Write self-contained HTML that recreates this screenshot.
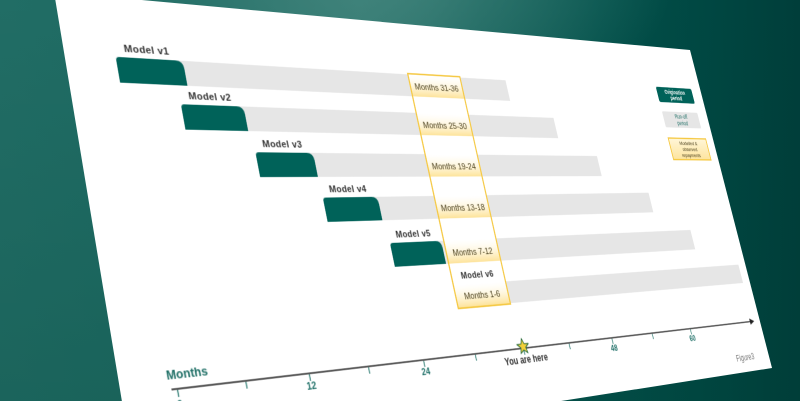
<!DOCTYPE html>
<html>
<head>
<meta charset="utf-8">
<style>
  html, body { margin: 0; padding: 0; width: 800px; height: 401px; overflow: hidden; background: #0d5a52; }
  .wrap {
    position: relative; width: 800px; height: 401px; overflow: hidden;
    background:
      radial-gradient(ellipse 420px 260px at 380px -30px, rgba(70,135,127,0.85), rgba(70,135,127,0) 70%),
      linear-gradient(180deg, rgba(0,0,0,0) 0%, rgba(0,60,50,0.18) 100%),
      linear-gradient(90deg, #216d65 0%, #1d6a62 25%, #2d766e 45%, #0f5d56 60%, #02504a 75%, #004641 90%, #003e3a 100%);
  }
  .bg { position: absolute; left: 0; top: 0; }
  .card {
    position: absolute; left: 0; top: 0;
    width: 1000px; height: 400px;
    transform-origin: 0 0;
    transform: matrix3d(0.96455, 0.081808, 0, 0.00047616,
                        0.146352, 0.927513, 0, -0.000137081,
                        0, 0, 1, 0,
                        54, -8, 0, 1);
  }
  .card svg { position: absolute; left: 0; top: 10px; overflow: visible; }
  text { font-family: "Liberation Sans", sans-serif; }
</style>
</head>
<body>
<div class="wrap">
<svg class="bg" width="800" height="401" viewBox="0 0 800 401" xmlns="http://www.w3.org/2000/svg">
  <polygon points="54,-8 690,50 772,368 133,468" fill="#ffffff"/>
</svg>
<div class="card">
<svg width="1000" height="390" viewBox="0 10 1000 390" xmlns="http://www.w3.org/2000/svg">
  <defs>
    <linearGradient id="yg" x1="0" y1="0" x2="0" y2="1">
      <stop offset="0" stop-color="#fff8e0" stop-opacity="0"/>
      <stop offset="1" stop-color="#fde39a"/>
    </linearGradient>
    <linearGradient id="lg" x1="0" y1="0" x2="0" y2="1">
      <stop offset="0" stop-color="#fff6d8"/>
      <stop offset="1" stop-color="#fde49e"/>
    </linearGradient>
  </defs>

  <!-- grey run-off bars -->
  <rect x="60" y="66" width="544" height="28" fill="#e6e6e6"/>
  <rect x="126" y="115" width="550" height="28" fill="#e6e6e6"/>
  <rect x="207" y="167" width="535" height="28" fill="#e6e6e6"/>
  <rect x="284" y="219" width="544" height="28" fill="#e6e6e6"/>
  <rect x="365" y="274" width="532" height="28" fill="#e6e6e6"/>
  <rect x="442" y="328" width="542" height="27" fill="#e6e6e6"/>

  <!-- dark origination bars -->
  <path d="M56,94 L56,70 Q56,66 60,66 L125,66 Q134,66 134,75 L134,94 Z" fill="#006259"/>
  <path d="M122,143 L122,119 Q122,115 126,115 L190,115 Q199,115 199,124 L199,143 Z" fill="#006259"/>
  <path d="M203,195 L203,171 Q203,167 207,167 L270,167 Q279,167 279,176 L279,195 Z" fill="#006259"/>
  <path d="M280,247 L280,223 Q280,219 284,219 L348,219 Q357,219 357,228 L357,247 Z" fill="#006259"/>
  <path d="M361,302 L361,278 Q361,274 365,274 L429,274 Q438,274 438,283 L438,302 Z" fill="#006259"/>

  <!-- model labels -->
  <g font-size="11.5" font-weight="bold" fill="#333333" letter-spacing="0.4">
    <text x="67" y="60">Model v1</text>
    <text x="133" y="109">Model v2</text>
    <text x="214" y="161">Model v3</text>
    <text x="291" y="213">Model v4</text>
    <text x="372" y="268">Model v5</text>
  </g>

  <!-- yellow highlight column -->
  <rect x="442" y="65" width="84" height="291" fill="#ffffff" stroke="#f5c945" stroke-width="2"/>
  <rect x="443" y="66" width="82" height="28" fill="url(#yg)"/>
  <rect x="443" y="115" width="82" height="28" fill="url(#yg)"/>
  <rect x="443" y="167" width="82" height="28" fill="url(#yg)"/>
  <rect x="443" y="219" width="82" height="28" fill="url(#yg)"/>
  <rect x="443" y="274" width="82" height="28" fill="url(#yg)"/>
  <rect x="443" y="328" width="82" height="27" fill="url(#yg)"/>
  <g font-size="11.5" fill="#4a3f1c" text-anchor="middle">
    <text x="484" y="85">Months 31-36</text>
    <text x="484" y="134">Months 25-30</text>
    <text x="484" y="186">Months 19-24</text>
    <text x="484" y="238">Months 13-18</text>
    <text x="484" y="293">Months 7-12</text>
    <text x="484" y="346">Months 1-6</text>
  </g>
  <text x="457" y="321" font-size="11.5" font-weight="bold" fill="#333333" letter-spacing="0.4">Model v6</text>

  <!-- legend -->
  <rect x="900" y="62" width="79" height="23" rx="3" fill="#006259"/>
  <g font-size="8.5" font-weight="bold" fill="#ffffff" text-anchor="middle">
    <text x="939.5" y="72">Origination</text>
    <text x="939.5" y="81">period</text>
  </g>
  <rect x="900" y="99" width="79" height="24" rx="2" fill="#e6e6e6"/>
  <g font-size="8.5" fill="#1f6f66" text-anchor="middle">
    <text x="939.5" y="109">Run-off</text>
    <text x="939.5" y="119">period</text>
  </g>
  <rect x="899" y="139" width="84" height="32" fill="url(#lg)" stroke="#f5c945" stroke-width="2"/>
  <g font-size="8" fill="#4a3f1c" text-anchor="middle">
    <text x="941" y="149">Modelled &amp;</text>
    <text x="941" y="158">observed</text>
    <text x="941" y="167">repayments</text>
  </g>

  <!-- axis -->
  <line x1="54" y1="411" x2="980" y2="411" stroke="#222222" stroke-width="1.6"/>
  <polygon points="977,406.5 987,411 977,415.5" fill="#222222"/>
  <g stroke="#2a7a70" stroke-width="1.3">
    <line x1="60.5" y1="412" x2="60.5" y2="419"/>
    <line x1="138.9" y1="412" x2="138.9" y2="419"/>
    <line x1="217.3" y1="412" x2="217.3" y2="419"/>
    <line x1="295.8" y1="412" x2="295.8" y2="419"/>
    <line x1="374.2" y1="412" x2="374.2" y2="419"/>
    <line x1="452.6" y1="412" x2="452.6" y2="419"/>
    <line x1="531" y1="412" x2="531" y2="419"/>
    <line x1="609.4" y1="412" x2="609.4" y2="419"/>
    <line x1="687.9" y1="412" x2="687.9" y2="419"/>
    <line x1="766.3" y1="412" x2="766.3" y2="419"/>
    <line x1="844.7" y1="412" x2="844.7" y2="419"/>
  </g>
  <g font-size="11" font-weight="bold" fill="#1f7068" text-anchor="middle">
    <text x="60.5" y="430">0</text>
    <text x="217.3" y="428">12</text>
    <text x="374.2" y="428">24</text>
    <text x="687.9" y="428">48</text>
    <text x="844.7" y="428">60</text>
  </g>
  <text x="51" y="401" font-size="13" font-weight="bold" fill="#1f6f66">Months</text>

  <!-- star -->
  <path d="M531,399 L533.47,405.6 L540.51,405.91 L534.99,410.3 L536.88,417.09 L531,413.2 L525.12,417.09 L527.01,410.3 L521.49,405.91 L528.53,405.6 Z"
        fill="#f2cf3a" stroke="#2b6e3f" stroke-width="1.2" stroke-linejoin="round"/>
  <text x="532" y="429" font-size="12" font-weight="bold" fill="#333333" text-anchor="middle">You are here</text>

  <text x="926" y="464" font-size="12" fill="#777777">Figure3</text>
</svg>
</div>
</div>
</body>
</html>
